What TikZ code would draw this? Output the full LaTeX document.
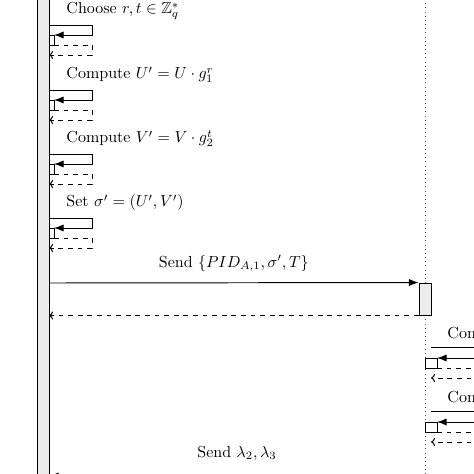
\documentclass[tikz,border=0pt]{standalone}
\usepackage{amssymb}
\usetikzlibrary{arrows.meta}
\begin{document}
\begin{tikzpicture}[x=0.625pt, y=-0.625pt, semithick,
    msg/.style={-{Latex[length=6pt,width=4.5pt]}},
    ret/.style={dashed, -{To[length=2.5pt,width=5pt]}},
    act/.style={draw, fill=gray!15},
    lbl/.style={anchor=base west, inner sep=0pt}]
  \useasboundingbox (0,0) rectangle (474,474);
  \clip (0,0) rectangle (474,474);

  % ---- lifelines ----
  \draw[dotted, black!70] (425,-5) -- (425,480);
  \draw[act] (37,-5) rectangle (49,480);

  % ---- self calls (left) ----
  \foreach \t/\txt [count=\i] in {25/{Choose $r,t \in \mathbb{Z}_q^*$},
      90/{Compute $U' = U \cdot g_1^r$},
      154/{Compute $V' = V \cdot g_2^t$},
      218/{Set $\sigma' = (U',V')$}} {
    \node[lbl] (lstep\i) at (66,\t-11) {\txt};
    \coordinate (ls\i) at (49,\t);
    \draw[msg] (ls\i) -- ++(43,0) -- ++(0,10) -- ++(-38,0);
    \draw[fill=white] (ls\i) ++(0,10) rectangle ++(5,10);
    \draw[ret] (ls\i) ++(5,20) -- ++(38,0) -- ++(0,10) -- ++(-43,0);
  }

  % ---- send to verifier ----
  \node[act, minimum width=7.5pt, minimum height=20pt, inner sep=0pt] (ver) at (425,299) {};
  \coordinate (u1) at (49,283);
  \draw[msg] (u1) -- (ver.north west)
    node[midway, above=3pt] (send1) {Send $\{PID_{A,1},\sigma',T\}$};
  \draw[ret] (ver.south west) -- (u1 |- ver.south west);

  % ---- self calls (right) ----
  \foreach \t [count=\i] in {347,411} {
    \node[lbl] (rstep\i) at (447,\t-9) {Compute};
    \coordinate (rs\i) at (431,\t);
    \draw (rs\i) -- ++(50,0);
    \draw[msg] (rs\i) ++(50,11) -- ++(-44,0);
    \draw[fill=white] (rs\i) ++(-6,11) rectangle ++(12,10);
    \draw[ret] (rs\i) ++(6,21) -- ++(44,0) ++(0,10) -- ++(-50,0);
  }

  % ---- send back ----
  \coordinate (vb) at (425,476);
  \coordinate (ub) at (49,476);
  \draw[msg] (vb) -- (ub)
    node[midway, above=6pt] (send2) {Send $\lambda_2,\lambda_3$};
\end{tikzpicture}
\end{document}
